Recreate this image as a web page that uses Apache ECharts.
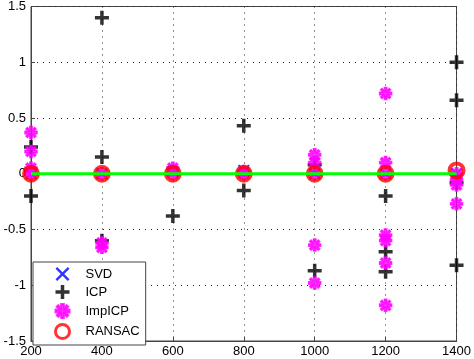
<!DOCTYPE html>
<html>
<head>
<meta charset="utf-8">
<script src="https://cdn.jsdelivr.net/npm/echarts@6/dist/echarts.min.js"></script>
<style>html,body{margin:0;padding:0;background:#fff;}#c{width:474px;height:359px;}</style>
</head>
<body>
<div id="c"></div>
<script>
var xPositions = [200, 400, 600, 800, 1000, 1200, 1400];
var xTicks = [200, 400, 600, 800, 1000, 1200, 1400];
var yTicks = [-1.5, -1, -0.5, 0, 0.5, 1, 1.5];
var svdValues = [[0], [0], [0.02], [0.03], [0], [0], [0]];
var icpValues = [[0.24, -0.2], [1.4, 0.15, -0.6], [-0.38], [0.43, -0.15], [0.08, -0.87], [-0.2, -0.7, -0.88], [1.0, 0.66, -0.08, -0.82]];
var impIcpValues = [[0.37, 0.2, 0.05, 0], [-0.62, -0.66, 0], [0.05, 0], [0.02, 0], [0.17, 0.1, 0, -0.64, -0.98], [0.72, 0.1, 0, -0.55, -0.6, -0.8, -1.18], [0, -0.05, -0.1, -0.27]];
var ransacValues = [[0], [0], [0], [0], [0], [0], [0.03]];
var truthLine = [0, 0, 0, 0, 0, 0, 0];

function pts(groups) {
  var out = [];
  groups.forEach(function (g, i) { g.forEach(function (v) { out.push([xPositions[i], v]); }); });
  return out;
}

var plusPath = 'path://M-1.5,-6L1.5,-6L1.5,-1.5L6,-1.5L6,1.5L1.5,1.5L1.5,6L-1.5,6L-1.5,1.5L-6,1.5L-6,-1.5L-1.5,-1.5Z';
var crossPath = 'path://M-5,-6.6L0,-1.6L5,-6.6L6.6,-5L1.6,0L6.6,5L5,6.6L0,1.6L-5,6.6L-6.6,5L-1.6,0L-6.6,-5Z';
var starPath = 'path://M-1.2,-6L1.2,-6L1.2,-2.6L3.6,-5L5,-3.6L2.6,-1.2L6,-1.2L6,1.2L2.6,1.2L5,3.6L3.6,5L1.2,2.6L1.2,6L-1.2,6L-1.2,2.6L-3.6,5L-5,3.6L-2.6,1.2L-6,1.2L-6,-1.2L-2.6,-1.2L-5,-3.6L-3.6,-5L-1.2,-2.6Z';

var font = 'Liberation Sans, Arial, sans-serif';
var chart = echarts.init(document.getElementById('c'), null, {renderer: 'canvas'});
chart.setOption({
  animation: false,
  backgroundColor: '#fff',
  grid: {left: 31, right: 14, top: 5, bottom: 18, show: true, borderColor: '#444', borderWidth: 1},
  xAxis: {
    type: 'value', min: 200, max: 1400, interval: 200,
    axisLine: {show: true, onZero: false, lineStyle: {color: '#444'}},
    axisTick: {show: true, inside: true, length: 4, lineStyle: {color: '#444'}},
    axisLabel: {color: '#000', fontFamily: font, fontSize: 13, margin: 4,
      formatter: function (v) { return xTicks.indexOf(v) >= 0 ? String(v) : ''; }},
    splitLine: {show: true, lineStyle: {color: '#222', type: [1, 5], width: 1}}
  },
  yAxis: {
    type: 'value', min: -1.5, max: 1.5, interval: 0.5,
    axisLine: {show: true, onZero: false, lineStyle: {color: '#444'}},
    axisTick: {show: true, inside: true, length: 4, lineStyle: {color: '#444'}},
    axisLabel: {color: '#000', fontFamily: font, fontSize: 13, margin: 5,
      formatter: function (v) { return yTicks.indexOf(v) >= 0 ? String(v) : ''; }},
    splitLine: {show: true, lineStyle: {color: '#222', type: [1, 5], width: 1}}
  },
  legend: {
    orient: 'vertical', left: 33, top: 262,
    padding: [5, 6, 5, 21],
    itemWidth: 14, itemHeight: 14, itemGap: 4,
    backgroundColor: '#fff', borderColor: '#444', borderWidth: 1,
    textStyle: {fontFamily: font, fontSize: 13, color: '#000', lineHeight: 14, padding: [0, 0, 0, 11]},
    data: [
      {name: 'SVD', icon: crossPath},
      {name: 'ICP', icon: plusPath},
      {name: 'ImpICP', icon: starPath},
      {name: 'RANSAC', icon: 'circle', itemStyle: {color: '#fff', borderColor: '#ff0000', borderWidth: 3}}
    ]
  },
  series: [
    {name: 'SVD', type: 'scatter', data: pts(svdValues), symbol: crossPath, symbolSize: 12,
      itemStyle: {color: '#0000ff'}, z: 2},
    {name: 'ICP', type: 'scatter', data: pts(icpValues), symbol: plusPath, symbolSize: 14,
      itemStyle: {color: '#000'}, z: 3},
    {name: 'ImpICP', type: 'scatter', data: pts(impIcpValues), symbol: starPath, symbolSize: 12,
      itemStyle: {color: '#ff00ff', borderColor: '#ff00ff', borderWidth: 1.5}, z: 4},
    {name: 'RANSAC', type: 'scatter', data: pts(ransacValues), symbol: 'circle', symbolSize: 14,
      itemStyle: {color: 'rgba(0,0,0,0)', borderColor: '#ff0000', borderWidth: 4}, z: 5},
    {name: 'truth', type: 'line', data: xPositions.map(function (x, i) { return [x, truthLine[i]]; }),
      symbol: 'none', lineStyle: {color: '#00ff00', width: 3}, z: 6}
  ]
});
</script>
</body>
</html>
